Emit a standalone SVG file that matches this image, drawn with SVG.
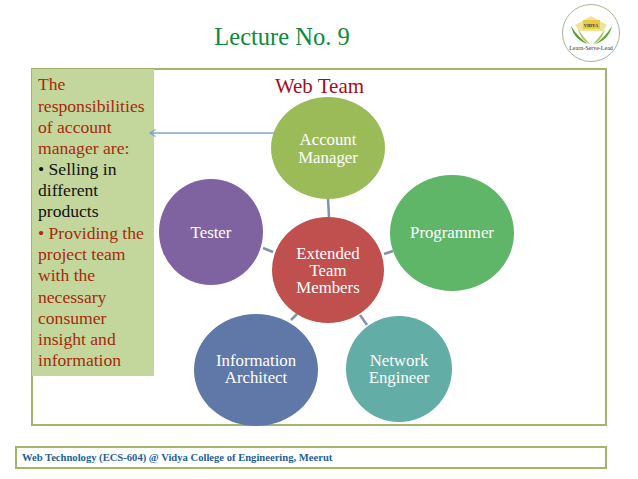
<svg xmlns="http://www.w3.org/2000/svg" width="638" height="479" viewBox="0 0 638 479">
<style>
text{font-family:"Liberation Serif","Times New Roman",serif}
.n{fill:#fff;font-size:16.8px;text-anchor:middle}
.s{font-size:17.6px}
.r{fill:#a52a0e}
.k{fill:#111}
.box{fill:#fff;stroke:#a3b56c;stroke-width:2}
.c{stroke:#7d93b5;stroke-width:2.5;fill:none}
</style>
<defs><marker id="arr" markerWidth="9" markerHeight="10" refX="7" refY="4" orient="auto" markerUnits="userSpaceOnUse"><path d="M1.500 0.500L7 4L1.500 7.500" fill="none" stroke="#83a3c4" stroke-width="1.300"/></marker></defs>
<rect width="638" height="479" fill="#fff"/>
<text x="282" y="45" font-size="24.500" text-anchor="middle" fill="#0d8a3c">Lecture No. 9</text>
<g id="logo">
<circle cx="591" cy="33" r="28.500" fill="#fff" stroke="#a8b59a" stroke-width="1"/>
<path d="M575 25L591 16L607 25L603 31H579Z" fill="#efe39a"/>
<rect x="583" y="20" width="17" height="9" fill="#e9c94a"/>
<path d="M571 26C576 34 582 40 588 44C580 42 573 36 571 26Z" fill="#5f9a3a"/>
<path d="M612 26C607 34 601 40 595 44C603 42 610 36 612 26Z" fill="#6aa43e"/>
<path d="M578 29C582 35 586 40 590 44C584 42 580 36 578 29Z" fill="#a9c65d"/>
<path d="M605 29C601 35 597 40 593 44C599 42 603 36 605 29Z" fill="#a9c65d"/>
<text x="591" y="27" font-size="4.500" font-weight="bold" text-anchor="middle" fill="#333">VIDYA</text>
<text x="591" y="50" font-size="6" text-anchor="middle" fill="#333">Learn-Serve-Lead</text>
</g>
<g id="main-frame"><rect class="box" x="32" y="69" width="574" height="356"/></g>
<g id="sidebar">
<rect x="32" y="69" width="122" height="307" fill="#c3d69b"/>
<text class="s r" x="38" y="90">The</text>
<text class="s r" x="38" y="111.500">responsibilities</text>
<text class="s r" x="38" y="132.500">of account</text>
<text class="s r" x="38" y="153.500">manager are:</text>
<text class="s k" x="38" y="175">• Selling in</text>
<text class="s k" x="38" y="196">different</text>
<text class="s k" x="38" y="217">products</text>
<text class="s r" x="38" y="238.500">• Providing the</text>
<text class="s r" x="38" y="260">project team</text>
<text class="s r" x="38" y="281">with the</text>
<text class="s r" x="38" y="302.500">necessary</text>
<text class="s r" x="38" y="323.500">consumer</text>
<text class="s r" x="38" y="345">insight and</text>
<text class="s r" x="38" y="366">information</text>
</g>
<text x="319.500" y="93" font-size="21" text-anchor="middle" fill="#a0101c">Web Team</text>
<g id="connectors">
<line class="c" x1="328" y1="199" x2="329" y2="217"/>
<line class="c" x1="384" y1="254" x2="393" y2="251"/>
<line class="c" x1="360" y1="315" x2="367" y2="325"/>
<line class="c" x1="297" y1="314" x2="291" y2="320"/>
<line class="c" x1="273" y1="252" x2="263" y2="248"/>
<line x1="275" y1="133" x2="150" y2="133" stroke="#83a3c4" stroke-width="1.300" marker-end="url(#arr)"/>
</g>
<g id="account-manager"><ellipse cx="328" cy="148" rx="57" ry="51" fill="#9bbb59"/><text class="n" x="328" y="145">Account</text><text class="n" x="328" y="163">Manager</text></g>
<g id="programmer"><ellipse cx="452" cy="233" rx="62" ry="58" fill="#5fb568"/><text class="n" x="452" y="238">Programmer</text></g>
<g id="network-engineer"><ellipse cx="399" cy="369" rx="53" ry="53" fill="#62ada6"/><text class="n" x="399" y="366">Network</text><text class="n" x="399" y="383">Engineer</text></g>
<g id="information-architect"><ellipse cx="256" cy="370" rx="62" ry="56" fill="#5f78a8"/><text class="n" x="256" y="366">Information</text><text class="n" x="256" y="383">Architect</text></g>
<g id="tester"><ellipse cx="211" cy="232" rx="52" ry="53" fill="#7f63a1"/><text class="n" x="211" y="238">Tester</text></g>
<g id="extended-team-members"><ellipse cx="328" cy="270" rx="56" ry="53" fill="#c0504d"/><text class="n" x="328" y="259">Extended</text><text class="n" x="328" y="276">Team</text><text class="n" x="328" y="293">Members</text></g>
<g id="footer"><rect class="box" x="16" y="447" width="590" height="21"/><text x="22" y="461" font-size="10.600" font-weight="bold" fill="#1f5f99">Web Technology (ECS-604) @ Vidya College of Engineering, Meerut</text></g>
</svg>
